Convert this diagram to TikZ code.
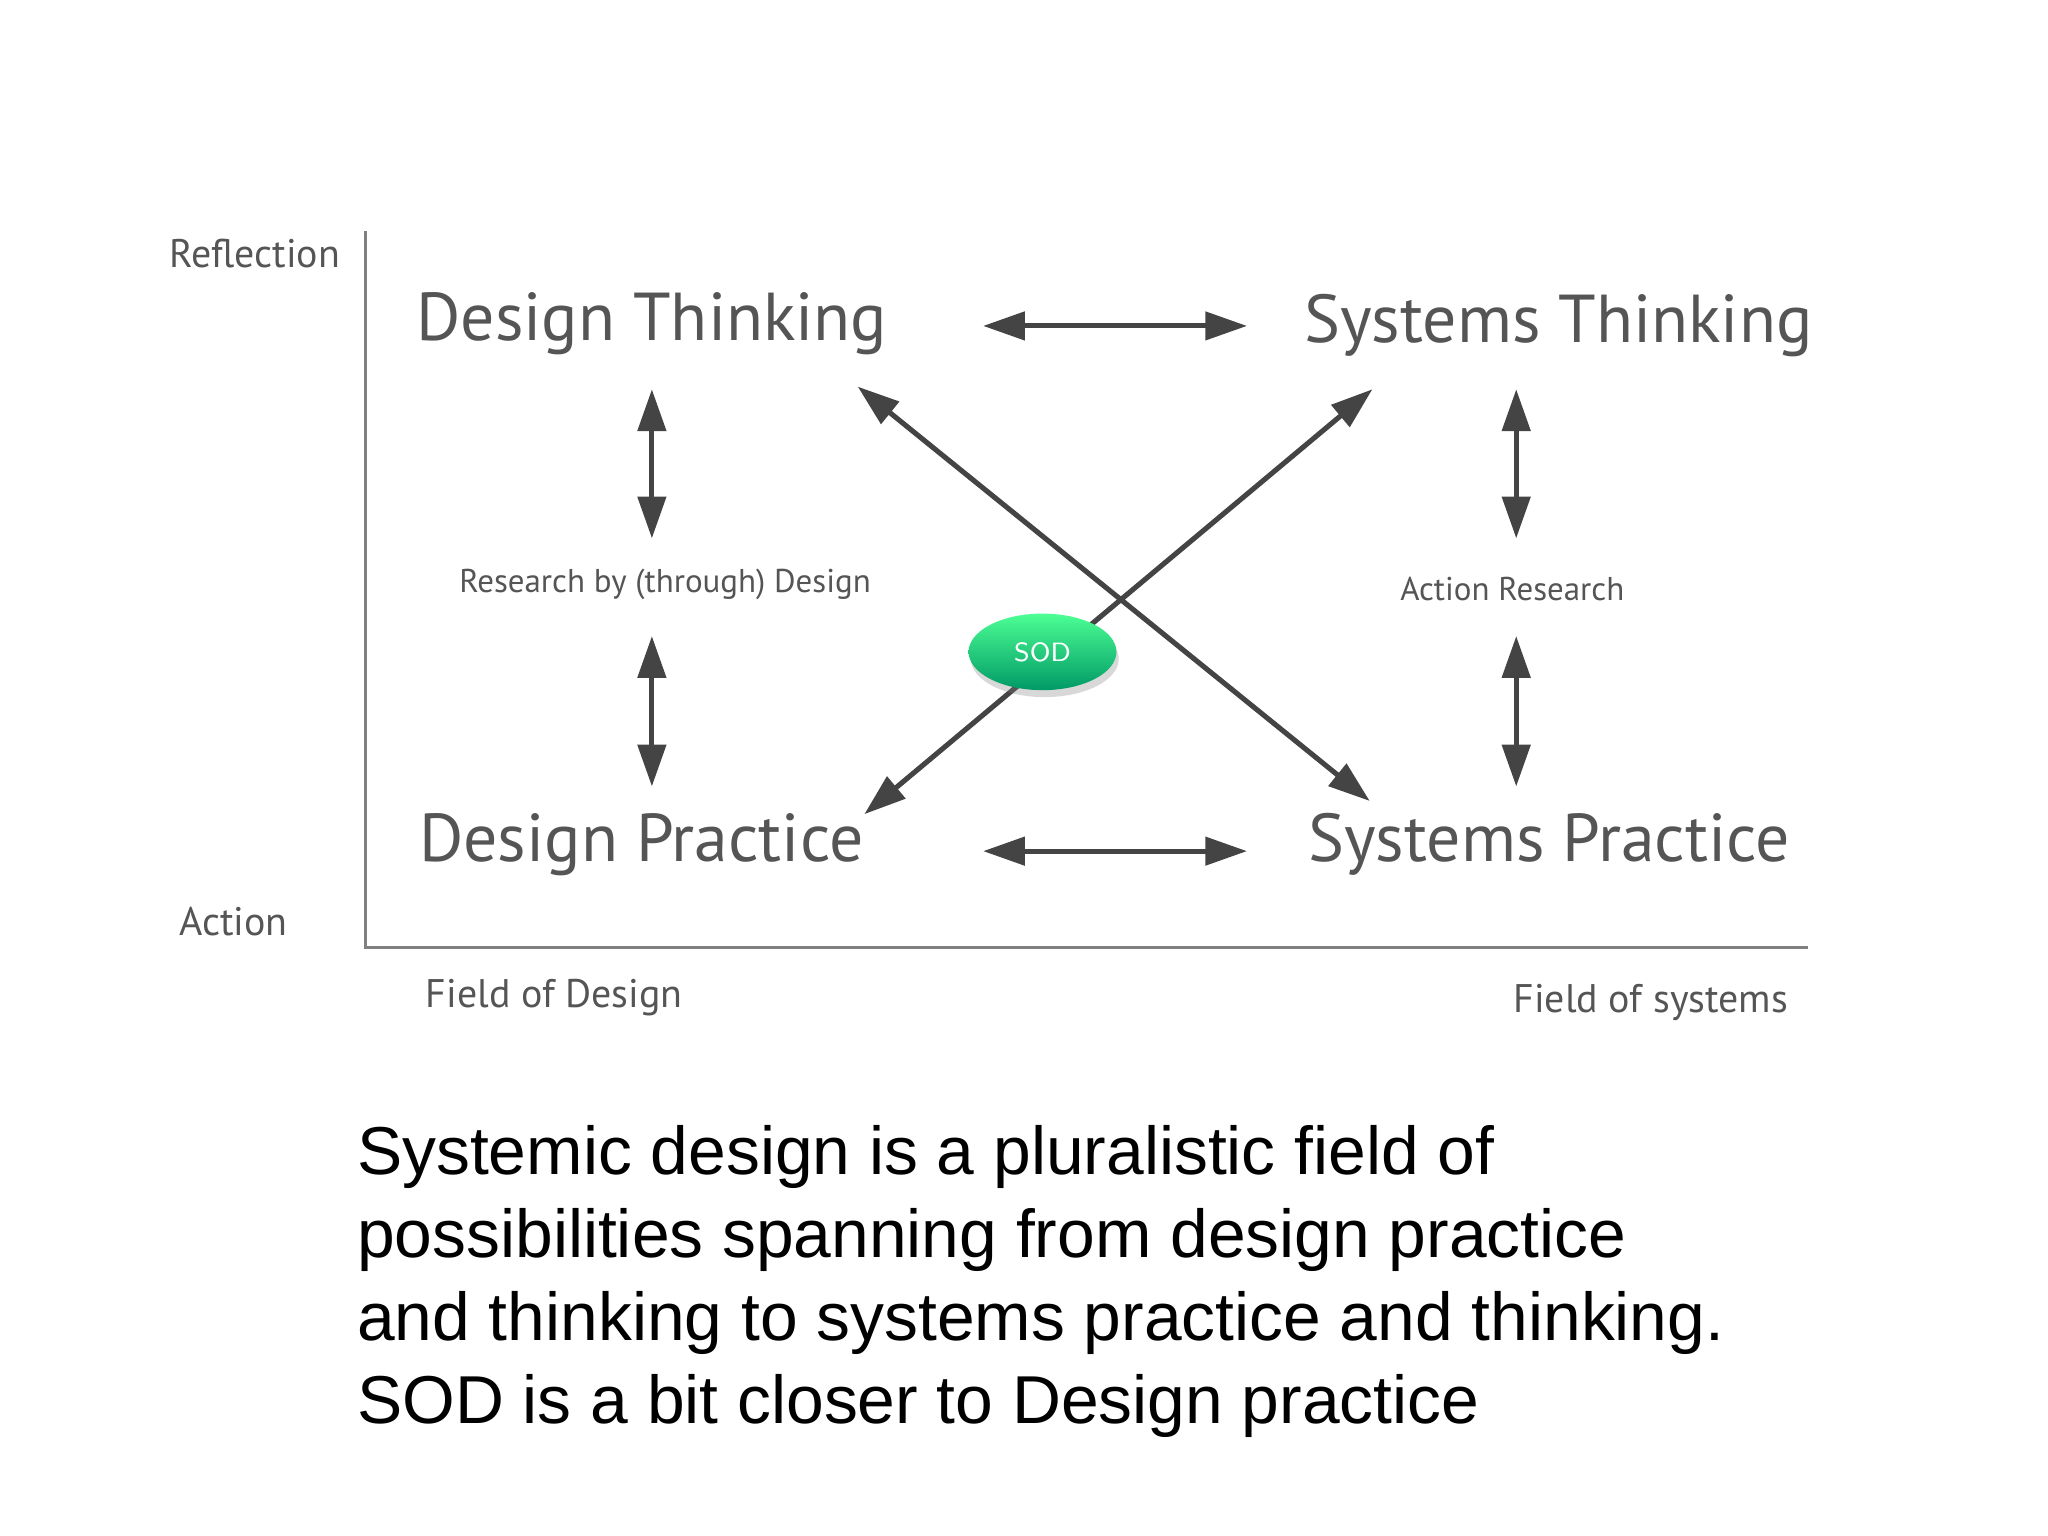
\documentclass[tikz,border=0pt]{standalone}
\usepackage{fontspec}
\setmainfont{PT Sans}
\newfontfamily\arialf{Liberation Sans}
\usetikzlibrary{arrows.meta,shadows,shapes.geometric}
\definecolor{ink}{HTML}{444444}
\definecolor{gtxt}{HTML}{555555}
\begin{document}
\begin{tikzpicture}[x=0.01cm,y=-0.01cm,
  big/.style={text=gtxt,font=\fontsize{14.6}{17}\selectfont},
  lab/.style={text=gtxt,font=\fontsize{8.6}{10}\selectfont},
  mid/.style={text=gtxt,font=\fontsize{7.1}{9}\selectfont},
  arr/.style={ink,line width=1.1pt,{Triangle[length=9pt,width=6pt]}-{Triangle[length=9pt,width=6pt]}},
  axis/.style={draw=gray,line width=0.8pt}]
\useasboundingbox (0,0) rectangle (1552,1164);
\fill[white] (0,0) rectangle (1552,1164);
\coordinate (o) at (277,718);
\coordinate (ytop) at (277,175);
\coordinate (xend) at (1370,718);
\draw[axis] (ytop) -- (o) -- (xend);
\node[lab] (refl) at (193,192) {Reflection};
\node[lab] (act) at (177,698) {Action};
\node[lab] (fd) at (420,756) {Field of Design};
\node[lab] (fs) at (1251,760) {Field of systems};
\node[big] (dt) at (494,245) {Design Thinking};
\node[big] (st) at (1181,247) {Systems Thinking};
\node[big] (dp) at (486,640) {Design Practice};
\node[big] (sp) at (1174,640) {Systems Practice};
\node[mid] (rd) at (504,443) {Research by (through) Design};
\node[mid] (ar) at (1146,446) {Action Research};
\coordinate (h1a) at (745,247); \coordinate (h1b) at (945,247);
\coordinate (h2a) at (745,645); \coordinate (h2b) at (945,645);
\coordinate (v1a) at (494,295); \coordinate (v1b) at (494,408);
\coordinate (v2a) at (494,482); \coordinate (v2b) at (494,596);
\coordinate (v3a) at (1149,295); \coordinate (v3b) at (1149,408);
\coordinate (v4a) at (1149,482); \coordinate (v4b) at (1149,596);
\coordinate (d1a) at (650,293); \coordinate (d1b) at (1038,607);
\coordinate (d2a) at (1040,295); \coordinate (d2b) at (655,617);
\foreach \a/\b in {h1a/h1b,h2a/h2b,v1a/v1b,v2a/v2b,v3a/v3b,v4a/v4b,d1a/d1b,d2a/d2b}
  \draw[arr] (\a) -- (\b);
\node[ellipse,inner sep=0pt,draw=none,
  minimum width=1.12cm,minimum height=0.58cm,
  top color=green!60!cyan!70!white,bottom color=teal!80!green,
  drop shadow={opacity=0.3,shadow xshift=0.5pt,shadow yshift=-1.5pt},
  text=white,font=\sffamily\fontsize{5.7}{7}\selectfont] (sod) at (790,494) {SOD};
\node[anchor=north west,align=left,text=black,
  font=\arialf\fontsize{14.6}{17.9}\selectfont,inner sep=0pt] (cap) at (270,852)
{Systemic design is a pluralistic field of\\
possibilities spanning from design practice\\
and thinking to systems practice and thinking.\\
SOD is a bit closer to Design practice};
\end{tikzpicture}
\end{document}
